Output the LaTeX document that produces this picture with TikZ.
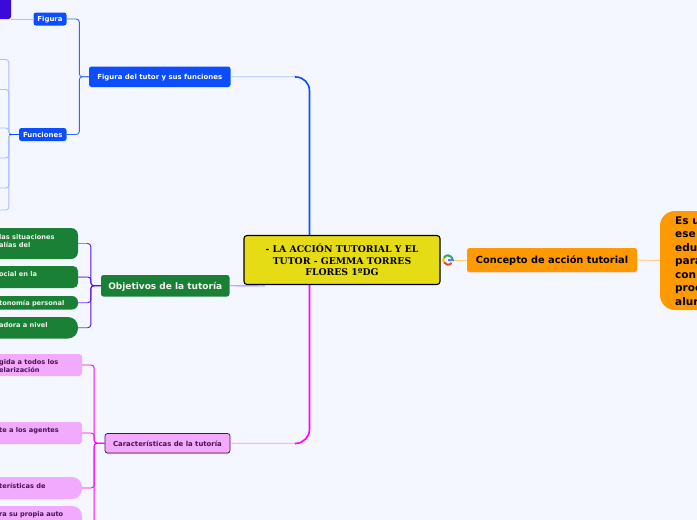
\documentclass[tikz,border=0pt]{standalone}
\usepackage{fontspec}
\usetikzlibrary{shadows}
\setmainfont{DejaVu Sans}
\newfontfamily\serifbold{DejaVu Serif}
\definecolor{pagebg}{HTML}{F4F7FF}
\definecolor{tutorblue}{HTML}{0B4DFF}
\definecolor{bluelight}{HTML}{A9BFFF}
\definecolor{topviolet}{HTML}{3A0BD8}
\definecolor{objgreen}{HTML}{1A8035}
\definecolor{objtext}{HTML}{F0F5EC}
\definecolor{violetdark}{HTML}{5A10F0}
\definecolor{violetlight}{HTML}{A67CFF}
\definecolor{pinkfill}{HTML}{F2AAFF}
\definecolor{pinktext}{HTML}{4A1050}
\definecolor{pinkdark}{HTML}{FF00FF}
\definecolor{pinklight}{HTML}{F58CFF}
\definecolor{centerfill}{HTML}{E6DC16}
\definecolor{orangefill}{HTML}{FF9900}
\definecolor{orangelight}{HTML}{FFCB85}
\tikzset{
  box/.style = {rectangle, rounded corners=2.5pt, font=\bfseries, inner sep=0pt, text depth=0pt},
  bluebox/.style = {box, fill=tutorblue, text=white},
  greenbox/.style = {box, fill=objgreen, text=objtext},
  pinkbox/.style = {box, fill=pinkfill, text=pinktext},
  greentext/.style = {anchor=west, align=left, inner sep=0pt, text=objtext, font=\bfseries\fontsize{6.6}{8.8}\selectfont},
  pinktext/.style = {anchor=west, align=left, inner sep=0pt, text=pinktext, font=\bfseries\fontsize{6.6}{8.4}\selectfont},
  bluelink/.style = {tutorblue!85!white, line width=0.9pt, rounded corners=3pt},
  greenlink/.style = {violetdark, line width=0.9pt, rounded corners=3pt},
  pinklink/.style = {pinkdark, line width=0.9pt, rounded corners=3pt}
}
\begin{document}
\begin{tikzpicture}[x=1pt, y=-1pt]

  \useasboundingbox (0,0) rectangle (697,520);
  \clip (0,0) rectangle (697,520);
  \fill[pagebg] (0,0) rectangle (697,520);

  % trunk behind the central box
  \coordinate (trunktop) at (309.5,235);
  \coordinate (trunkbottom) at (309.5,285);

  \node[bluebox, minimum width=141.5pt, minimum height=20.5pt, font=\bfseries\fontsize{6.95}{8}\selectfont] (tutorbox) at (159.75,76.75) {Figura del tutor y sus funciones};
  \node[bluebox, minimum width=33pt, minimum height=13pt, font=\bfseries\fontsize{6.95}{8}\selectfont] (figurabox) at (50,19) {Figura};
  \node[bluebox, minimum width=47.5pt, minimum height=13pt, font=\bfseries\fontsize{6.95}{8}\selectfont] (funcionesbox) at (42.75,134.5) {Funciones};
  \node[box, fill=topviolet, minimum width=31pt, minimum height=29pt] (topbox) at (-4.5,4.5) {};

  \node[greenbox, minimum width=128.5pt, minimum height=21.5pt, font=\bfseries\fontsize{9}{10}\selectfont] (objbox) at (165.25,285.75) {Objetivos de la tutoría};
  \node[greenbox, rounded corners=7pt, minimum width=108pt, minimum height=31pt] (objone) at (24,243.5) {};
  \node[greenbox, rounded corners=5pt, minimum width=108pt, minimum height=22pt] (objtwo) at (24,277) {};
  \node[greenbox, rounded corners=6pt, minimum width=108pt, minimum height=13.5pt] (objthree) at (24,302.75) {};
  \node[greenbox, rounded corners=10pt, minimum width=108pt, minimum height=21.5pt] (objfour) at (24,327.75) {};
  \node[greentext] (objonetext) at (-1,241) {las situaciones\\alías del};
  \node[greentext] (objtwotext) at (-1,274.3) {ocial en la};
  \node[greentext] (objthreetext) at (-1,304) {tonomía personal};
  \node[greentext] (objfourtext) at (-1,325.5) {adora a nivel};

  \node[pinkbox, draw=pinktext, line width=0.7pt, drop shadow={opacity=0.35, shadow xshift=0pt, shadow yshift=-1pt}, minimum width=125pt, minimum height=19.5pt, font=\bfseries\fontsize{6.9}{8}\selectfont] (carbox) at (167.5,443.25) {Características de la tutoría};
  \node[pinkbox, rounded corners=3pt, minimum width=112pt, minimum height=22pt] (carone) at (26,365) {};
  \node[pinkbox, rounded corners=3pt, minimum width=112pt, minimum height=22pt] (cartwo) at (26,433) {};
  \node[pinkbox, rounded corners=10pt, minimum width=112pt, minimum height=22pt] (carthree) at (26,488) {};
  \node[pinkbox, rounded corners=10pt, minimum width=112pt, minimum height=34pt] (carfour) at (26,523) {};
  \node[pinktext] (caronetext) at (-1,366) {gida a todos los\\elarización};
  \node[pinktext] (cartwotext) at (-1,430.5) {te a los agentes};
  \node[pinktext] (carthreetext) at (-1,485.5) {terísticas de};
  \node[pinktext] (carfourtext) at (-1,514.5) {ra su propia auto};

  \node[box, fill=orangefill, text=black, drop shadow={opacity=0.15, shadow xshift=0pt, shadow yshift=-1pt}, minimum width=170pt, minimum height=24pt, font=\bfseries\fontsize{9.8}{10}\selectfont] (conceptobox) at (552,260) {Concepto de acción tutorial};
  \node[box, fill=orangefill, rounded corners=15pt, minimum width=90pt, minimum height=99pt] (esbox) at (705,260.5) {};
  \node[anchor=north west, align=left, inner sep=0pt, text depth=, font=\bfseries\fontsize{10.5}{13.5}\selectfont] (estext) at (675,216.5) {Es u\\ese\\edu\\para\\con\\proc\\alur};

  \draw[bluelight, line width=0.9pt, rounded corners=14pt] (tutorbox.east) -- (trunktop |- tutorbox.east) -- (trunktop);
  \draw[tutorblue, line width=1.6pt, rounded corners=14pt] (295,77) -- (trunktop |- tutorbox.east) -- (trunktop);
  \draw[pinklight, line width=0.9pt, rounded corners=14pt] (carbox.east) -- (trunkbottom |- carbox.east) -- (trunkbottom);
  \draw[pinkdark, line width=1.6pt, rounded corners=14pt] (295,443.5) -- (trunkbottom |- carbox.east) -- (trunkbottom);
  \draw[violetlight, line width=0.9pt] (objbox.east) -- (265,286);

  \draw[bluelink] (tutorbox.west) -- ++(-9.5,0) |- (figurabox.east);
  \draw[bluelink] (tutorbox.west) -- ++(-9.5,0) |- (funcionesbox.east);
  \draw[bluelight, line width=0.9pt] (figurabox.west) -- (topbox.east |- figurabox.west);

  % the branches that leave the picture on the left
  \foreach \y in {59.5,89.5,128,158,188,210}
    \draw[bluelight, line width=0.9pt, rounded corners=3pt] (funcionesbox.west) -- ++(-10,0) |- (-2,\y);
  \draw[tutorblue, line width=1pt] (funcionesbox.west) -- ++(-10,0);

  \foreach \target in {objone,objtwo,objthree,objfour}
    \draw[greenlink] (objbox.west) -- ++(-10,0) |- (\target.east);
  \draw[violetlight, line width=1pt] (objone.east) -- ++(9,0);
  \draw[violetlight, line width=1pt] (objtwo.east) -- ++(9,0);
  \draw[violetlight, line width=1pt] (objthree.east) -- ++(9,0);
  \draw[violetlight, line width=1pt] (objfour.east) -- ++(9,0);

  \foreach \target in {carone,cartwo,carthree}
    \draw[pinklink] (carbox.west) -- ++(-10.5,0) |- (\target.east);
  \draw[pinklink] (carbox.west) -- ++(-10.5,0) -- ++(0,90);

  \node[rectangle, rounded corners=3pt, draw=black, line width=1.1pt, fill=centerfill, minimum width=196pt, minimum height=49pt, align=center, font=\serifbold\bfseries\fontsize{9.3}{11.5}\selectfont] (centerbox) at (342,260) {- LA ACCIÓN TUTORIAL Y EL\\TUTOR - GEMMA TORRES\\FLORES 1ºDG};

  \coordinate (iconcenter) at (448,260);
  \draw[orangelight, line width=0.9pt] (centerbox.east) -- (conceptobox.west);
  \draw[orangelight, line width=0.9pt] (conceptobox.east) -- (esbox.west);
  \fill[pagebg] (iconcenter) circle (6.5);
  \draw[line width=2pt, color={rgb,255:red,234;green,67;blue,53}] (iconcenter) ++(40:4.7) arc (40:150:4.7);
  \draw[line width=2pt, color={rgb,255:red,251;green,188;blue,5}] (iconcenter) ++(150:4.7) arc (150:210:4.7);
  \draw[line width=2pt, color={rgb,255:red,52;green,168;blue,83}] (iconcenter) ++(210:4.7) arc (210:320:4.7);
  \draw[line width=2pt, color={rgb,255:red,66;green,133;blue,244}] (iconcenter) ++(320:4.7) arc (320:360:4.7) -- ++(-4.7,0);

\end{tikzpicture}
\end{document}
